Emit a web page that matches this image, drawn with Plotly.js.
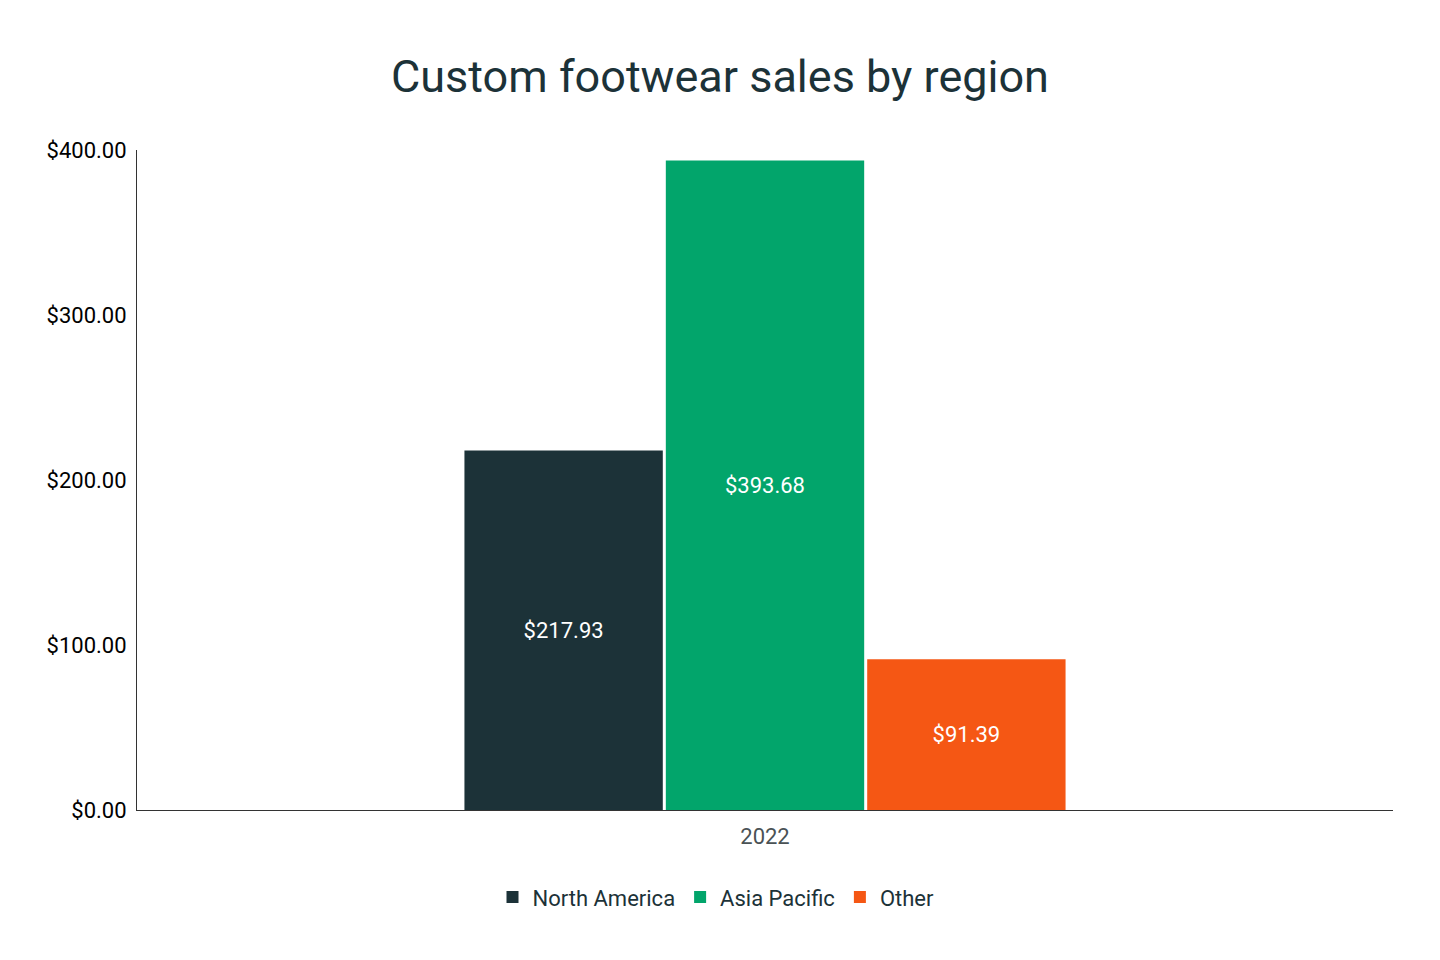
<!DOCTYPE html>
<html>
<head>
<meta charset="utf-8">
<script src="https://cdn.plot.ly/plotly-3.0.1.min.js"></script>
<style>
  html, body { margin: 0; padding: 0; background: #fff; }
  #chart { width: 1440px; height: 960px; }
</style>
</head>
<body>
<div id="chart"></div>
<script>
// Custom footwear sales by region (USD), single year
const categories = ['2022'];
const seriesNames = ['North America', 'Asia Pacific', 'Other'];
const northAmerica = [217.93];
const asiaPacific = [393.68];
const other = [91.39];
const seriesColors = ['#1c3238', '#02a56b', '#f55714'];
const yTicks = [0, 100, 200, 300, 400];

const seriesValues = [northAmerica, asiaPacific, other];

const traces = seriesNames.map((name, i) => ({
  type: 'bar',
  name: name,
  x: categories,
  y: seriesValues[i],
  marker: { color: seriesColors[i], line: { width: 0 } },
  text: seriesValues[i].map(v => '$' + v.toFixed(2)),
  textposition: 'inside',
  insidetextanchor: 'middle',
  textangle: 0,
  textfont: { family: 'Roboto, sans-serif', size: 22, color: '#ffffff' },
  hovertemplate: '%{x}<br>' + name + ': %{text}<extra></extra>',
}));

const layout = {
  width: 1440,
  height: 960,
  paper_bgcolor: '#ffffff',
  plot_bgcolor: '#ffffff',
  font: { family: 'Roboto, sans-serif', color: '#000000', size: 22 },
  margin: { t: 150, r: 47, b: 150, l: 137 },
  title: {
    text: 'Custom footwear sales by region',
    font: { family: 'Roboto, sans-serif', size: 45, color: '#1c3238' },
    x: 0.5,
    xanchor: 'center',
    xref: 'container',
    y: 1 - 76 / 960,
    yanchor: 'middle',
    yref: 'container',
  },
  barmode: 'group',
  bargap: 0.519,
  bargroupgap: 0.015,
  showlegend: true,
  legend: {
    orientation: 'h',
    x: (716 - 137) / 1256,
    xanchor: 'center',
    y: -0.132,
    yanchor: 'middle',
    font: { family: 'Roboto, sans-serif', size: 22, color: '#1c3238' },
    itemwidth: 30,
    traceorder: 'normal',
  },
  xaxis: {
    type: 'category',
    showline: true,
    linecolor: '#333333',
    linewidth: 1,
    showgrid: false,
    zeroline: false,
    ticks: 'outside',
    ticklen: 7,
    tickcolor: 'rgba(0,0,0,0)',
    tickfont: { family: 'Roboto, sans-serif', size: 22, color: '#4a5255' },
  },
  yaxis: {
    range: [0, 400],
    showline: true,
    linecolor: '#333333',
    linewidth: 1,
    showgrid: false,
    zeroline: false,
    tickvals: yTicks,
    ticktext: yTicks.map(v => '$' + v.toFixed(2)),
    ticks: 'outside',
    ticklen: 5,
    tickcolor: 'rgba(0,0,0,0)',
    tickfont: { family: 'Roboto, sans-serif', size: 22, color: '#000000' },
  },
};

Plotly.newPlot('chart', traces, layout, { displayModeBar: false, responsive: false });
</script>
</body>
</html>
